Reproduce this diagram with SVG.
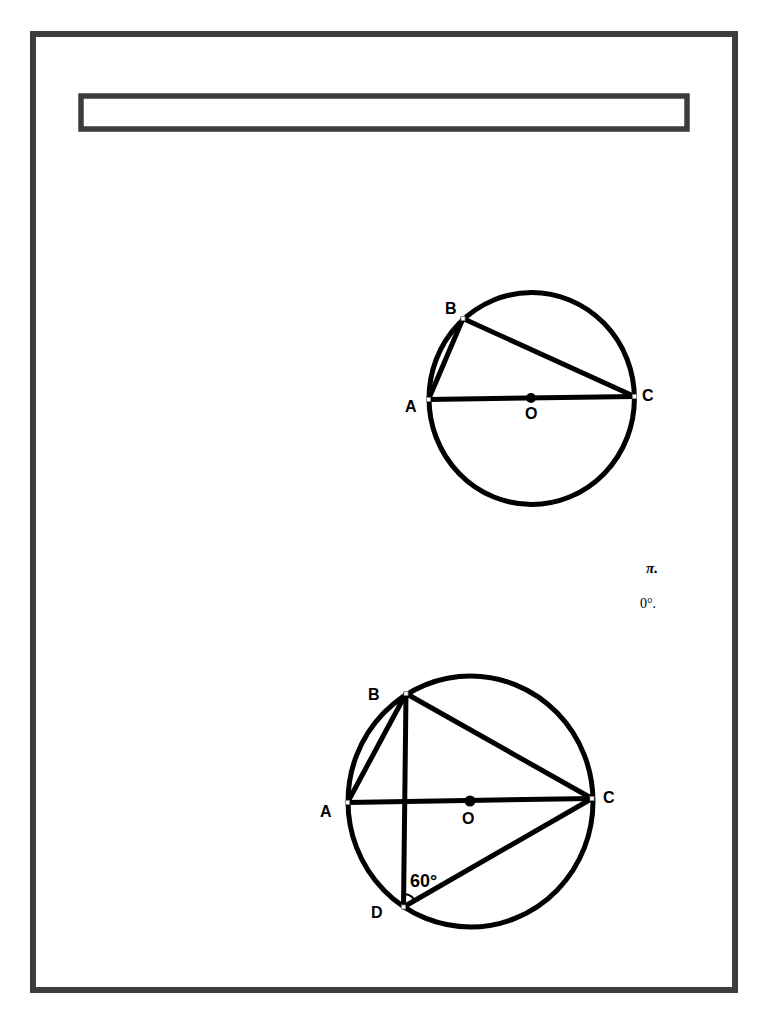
<svg xmlns="http://www.w3.org/2000/svg" width="768" height="1024" viewBox="0 0 768 1024">
<style>
.frame{fill:none;stroke:#3d3d3d}
.geo{fill:none;stroke:#000;stroke-width:5;stroke-linecap:round}
.pt{fill:#fff;stroke:#888;stroke-width:0.8}
.lbl{font-family:"Liberation Sans",Arial,sans-serif;font-weight:bold;font-size:16px;fill:#000}
.big{font-size:18px}
</style>
<rect width="768" height="1024" fill="#fff"/>
<rect id="page-frame" class="frame" x="33" y="34" width="702" height="956" stroke-width="6"/>
<rect id="title-box" class="frame" x="81" y="96" width="606" height="33" stroke-width="5.5"/>

<g id="figure1">
  <ellipse class="geo" cx="531.7" cy="398.5" rx="102.7" ry="106"/>
  <g id="f1-lines">
    <line class="geo" x1="428.5" y1="399.5" x2="634.5" y2="396.5"/>
    <line class="geo" x1="428.5" y1="399.5" x2="463" y2="318.5"/>
    <line class="geo" x1="463" y1="318.5" x2="634.5" y2="396.5"/>
  </g>
  <circle cx="531" cy="398" r="5" fill="#000"/>
  <rect class="pt" x="426.5" y="397.5" width="4" height="4"/>
  <rect class="pt" x="461" y="316.5" width="4" height="4"/>
  <rect class="pt" x="632.5" y="394.5" width="4" height="4"/>
  <text class="lbl" x="445" y="314">B</text>
  <text class="lbl" x="405" y="412">A</text>
  <text class="lbl" x="525" y="419">O</text>
  <text class="lbl" x="642" y="401">C</text>
</g>

<text x="646" y="573" font-family="Liberation Serif,serif" font-weight="bold" font-style="italic" font-size="15" fill="#000">π.</text>
<text x="640" y="608" font-family="Liberation Serif,serif" font-size="14" fill="#000">0°.</text>

<g id="figure2">
  <ellipse class="geo" cx="470.5" cy="801.5" rx="122.5" ry="125.5"/>
  <g id="f2-lines">
    <line class="geo" x1="347.5" y1="802.5" x2="592" y2="798.5"/>
    <line class="geo" x1="347.5" y1="802.5" x2="406" y2="693.5"/>
    <line class="geo" x1="406" y1="693.5" x2="592" y2="798.5"/>
    <line class="geo" x1="406" y1="693.5" x2="403.5" y2="907" stroke-width="4"/>
    <line class="geo" x1="403.5" y1="907" x2="592" y2="798.5"/>
    <path d="M403.7 894 A13 13 0 0 1 414.8 900.5" fill="none" stroke="#000" stroke-width="2"/>
  </g>
  <circle cx="470" cy="801" r="5.5" fill="#000"/>
  <rect class="pt" x="345.5" y="800.5" width="4" height="4"/>
  <rect class="pt" x="404" y="691.5" width="4" height="4"/>
  <rect class="pt" x="590" y="796.5" width="4" height="4"/>
  <rect class="pt" x="401.5" y="905" width="4" height="4"/>
  <text class="lbl" x="368" y="700">B</text>
  <text class="lbl" x="320" y="817">A</text>
  <text class="lbl" x="462" y="824">O</text>
  <text class="lbl" x="603" y="803">C</text>
  <text class="lbl" x="371" y="918">D</text>
  <text class="lbl big" x="410" y="887">60°</text>
</g>
</svg>
